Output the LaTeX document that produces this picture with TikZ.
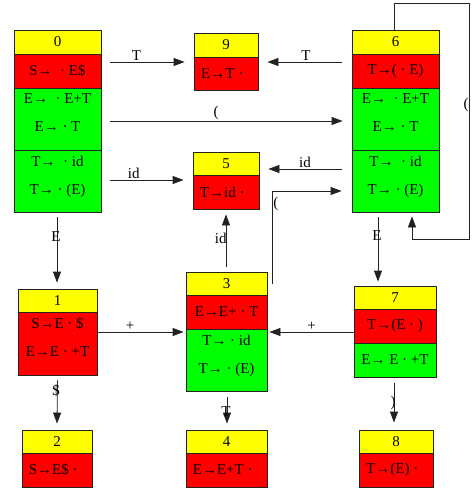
\documentclass[tikz,border=0pt]{standalone}
\usepackage{fontspec}
\setmainfont{Liberation Serif}
\usetikzlibrary{arrows.meta,calc}
\definecolor{cyel}{HTML}{FFFF00}
\definecolor{cred}{HTML}{FF0000}
\definecolor{cgrn}{HTML}{00FF00}
\definecolor{cline}{HTML}{222222}
\begin{document}
\begin{tikzpicture}[x=1pt,y=-1pt,
  sec/.style={draw=cline, line width=0.8pt, inner sep=0pt, align=center,
    font=\fontsize{15}{28}\selectfont},
  hdr/.style={sec, fill=cyel},
  redsec/.style={sec, fill=cred},
  grnsec/.style={sec, fill=cgrn},
  twoline/.style={text depth=12pt},
  arr/.style={draw=cline, line width=0.8pt, -{Triangle[length=11pt,width=8pt]}},
  lbl/.style={font=\fontsize{15}{17}\selectfont, inner sep=1pt},
]
\useasboundingbox (0,0) rectangle (474,496);
\fill[white] (0,0) rectangle (474,496);

% state 0
\node[hdr, minimum width=87, minimum height=24] (h0) at (57.5,42) {0};
\node[redsec, minimum width=87, minimum height=34] (r0) at (57.5,71) {S→ \ · E\$};
\node[grnsec, twoline, minimum width=87, minimum height=62] (g0a) at (57.5,119) {E→ \ · E+T\\E→ · T};
\node[grnsec, twoline, minimum width=87, minimum height=62] (g0b) at (57.5,181) {T→ \ · id\\T→ · (E)};

% state 6
\node[hdr, minimum width=87, minimum height=24] (h6) at (395.5,42) {6};
\node[redsec, minimum width=87, minimum height=34] (r6) at (395.5,71) {T→( · E)};
\node[grnsec, twoline, minimum width=87, minimum height=62] (g6a) at (395.5,119) {E→ \ · E+T\\E→ · T};
\node[grnsec, twoline, minimum width=87, minimum height=62] (g6b) at (395.5,181) {T→ \ · id\\T→ · (E)};

% state 9
\node[hdr, minimum width=64, minimum height=24] (h9) at (226,45) {9};
\node[redsec, minimum width=64, minimum height=33] (r9) at (226,73.5) {E→T · \ };

% state 5
\node[hdr, minimum width=66, minimum height=23] (h5) at (226,163.5) {5};
\node[redsec, minimum width=66, minimum height=34] (r5) at (226,192) {T→id · \ };

% state 1
\node[hdr, minimum width=79, minimum height=23] (h1) at (57.5,300.5) {1};
\node[redsec, twoline, minimum width=79, minimum height=63] (r1) at (57.5,343.5) {S→E · \$\\E→E · +T};

% state 2
\node[hdr, minimum width=70, minimum height=23] (h2) at (57,441.5) {2};
\node[redsec, minimum width=70, minimum height=34] (r2) at (57,470) {S→E\$ · \ };

% state 3
\node[hdr, minimum width=81, minimum height=23] (h3) at (226.5,283.5) {3};
\node[redsec, minimum width=81, minimum height=34] (r3) at (226.5,312) {E→E+ · T};
\node[grnsec, twoline, minimum width=81, minimum height=62] (g3) at (226.5,360) {T→ · id\\T→ · (E)};

% state 4
\node[hdr, minimum width=81, minimum height=23] (h4) at (226.5,441.5) {4};
\node[redsec, minimum width=81, minimum height=34] (r4) at (226.5,470) {E→E+T · \ };

% state 7
\node[hdr, minimum width=82, minimum height=23] (h7) at (395,297.5) {7};
\node[redsec, minimum width=82, minimum height=34] (r7) at (395,326) {T→(E · )};
\node[grnsec, minimum width=82, minimum height=34] (g7) at (395,360) {E→ E · +T};

% state 8
\node[hdr, minimum width=74, minimum height=23] (h8) at (396,441.5) {8};
\node[redsec, minimum width=74, minimum height=34] (r8) at (396,470) {T→(E) · \ };

% edges
\draw[arr] ($(r0.east)+(9,-9)$) -- node[lbl, pos=0.35, above] {T} ($(r9.west)+(-9,-11.5)$);
\draw[arr] ($(g0a.east)+(9,2)$) -- node[lbl, pos=0.455, above] {(} ($(g6a.west)+(-9,2)$);
\draw[arr] ($(g0b.east)+(9,-1)$) -- node[lbl, pos=0.32, above] {id} ($(r5.west)+(-9,-12)$);
\draw[arr] ($(r6.west)+(-10,-9)$) -- node[lbl, pos=0.48, above] {T} ($(r9.east)+(9,-11.5)$);
\draw[arr] ($(g6b.west)+(-10,-12)$) -- node[lbl, pos=0.5, above] {id} ($(r5.east)+(9,-23)$);
\draw[arr] ($(h3.east)+(5,0)$) |- node[lbl, pos=0.43, right, inner sep=0.5pt] {(} ($(g6b.west)+(-10,10)$);
\draw[arr] ($(h6.north)+(-1.5,0)$) -- ++(0,-26) -- ++(75,0)
  -- ++(0,236) node[lbl, pos=0.43, xshift=-3pt] {(} -| ($(g6b.south)+(16.5,4)$);
\draw[arr] ($(g6b.south)+(-17.5,5)$) -- node[lbl, pos=0.29, left, inner sep=0pt, xshift=4pt] {E} ($(h7.north)+(-17,-4)$);
\draw[arr] ($(g0b.south)+(-0.5,5)$) -- node[lbl, pos=0.3, left, inner sep=0pt, xshift=4pt] {E} ($(h1.north)+(-0.5,-6)$);
\draw[arr] ($(r1.east)+(0,-11.5)$) -- node[lbl, pos=0.38, above] {+} ($(g3.west)+(-2,-28)$);
\draw[arr] ($(r1.south)+(0,5)$) -- node[lbl, pos=0.23, left, inner sep=0pt, xshift=3pt] {\$} ($(h2.north)+(0,-6)$);
\draw[arr] ($(h3.north)+(-0.5,-5)$) -- node[lbl, pos=0.55, left, inner sep=0pt, xshift=1pt] {id} ($(r5.south)+(0,5)$);
\draw[arr] ($(r7.west)+(0,6)$) -- node[lbl, pos=0.5, above] {+} ($(g3.east)+(2,-28)$);
\draw[arr] ($(g3.south)+(0.5,6)$) -- node[lbl, pos=0.55, left, inner sep=0pt, xshift=4pt] {T} ($(h4.north)+(0.5,-6)$);
\draw[arr] ($(g7.south)+(-1,6)$) -- node[lbl, pos=0.5, left, inner sep=0pt, xshift=2pt] {)} ($(h8.north)+(-2,-7)$);
\end{tikzpicture}
\end{document}
